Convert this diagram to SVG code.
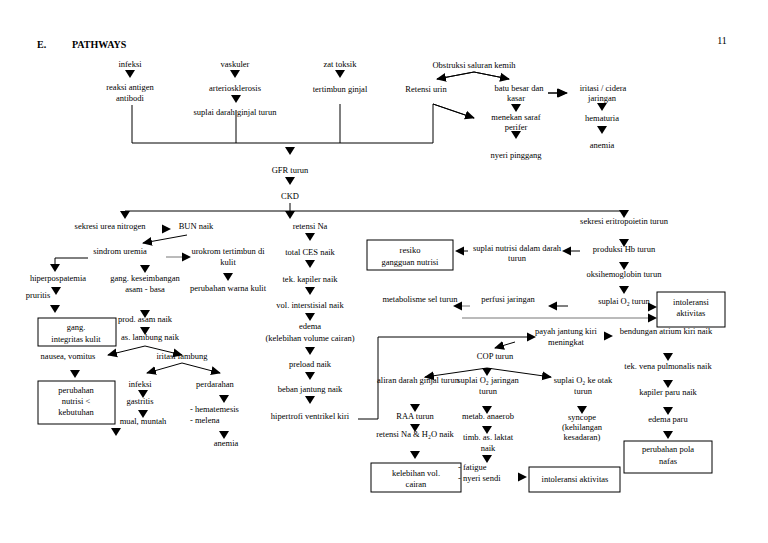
<svg xmlns="http://www.w3.org/2000/svg" xmlns:xlink="http://www.w3.org/1999/xlink" width="768" height="543" viewBox="0 0 768 543">
<style>
text{font-family:"Liberation Serif",serif;font-size:8.5px;text-anchor:middle;fill:#000}
.s{text-anchor:start}
.b{font-weight:bold;font-size:10px;text-anchor:start}
.ln{stroke:#000;stroke-width:1;fill:none}
.g{stroke:#777;stroke-width:1;fill:none}
.box{fill:#fff;stroke:#000;stroke-width:1}
</style>
<defs>
<path id="d" d="M-5,0 L5,0 L0,8 Z"/>
<path id="r" d="M0,-4.5 L9,0 L0,4.5 Z"/>
<path id="l" d="M0,-4.5 L-9,0 L0,4.5 Z"/>
<marker id="a" markerWidth="10" markerHeight="10" refX="9" refY="5" orient="auto" markerUnits="userSpaceOnUse"><path d="M0,0.5 L10,5 L0,9.5 Z"/></marker>
</defs>
<rect width="768" height="543" fill="#fff"/>
<text class="b" x="37" y="48">E.</text>
<text class="b" x="72" y="48">PATHWAYS</text>
<text x="722" y="44" style="font-size:10px">11</text>

<g id="connectors">
<use href="#d" x="130" y="70"/><use href="#d" x="235" y="70"/><use href="#d" x="236" y="95"/><use href="#d" x="340" y="70"/>
<path class="ln" d="M132,105V143M236,110V143M340,104V143M132,143H433V104"/>
<path class="ln" d="M474,72L437,79M474,72L509,79M433,104L474,118M548,93H566" marker-end="url(#a)"/>
<path class="ln" d="M474,72L437,79" marker-end="url(#a)"/><path class="ln" d="M474,72L509,79" marker-end="url(#a)"/><path class="ln" d="M433,104L474,118" marker-end="url(#a)"/><path class="ln" d="M548,93H567" marker-end="url(#a)"/>
<use href="#d" x="516" y="104"/><use href="#d" x="516" y="131"/><use href="#d" x="602" y="103"/><use href="#d" x="602" y="126"/>
<use href="#d" x="290" y="147"/><use href="#d" x="290" y="177"/>
<path class="ln" d="M290,203V211M125,211H625"/>
<use href="#d" x="125" y="211"/><use href="#d" x="290" y="211"/><use href="#d" x="624" y="210"/>
<use href="#r" x="162" y="229"/>
<path class="ln" d="M187,235L143,243" marker-end="url(#a)"/>
<path class="ln" d="M88,258H55V264"/><use href="#d" x="55" y="264"/><use href="#d" x="56" y="287"/><use href="#d" x="55" y="305"/>
<path class="g" d="M166,257H182"/><use href="#r" x="182" y="257"/>
<use href="#d" x="145" y="265"/><use href="#d" x="228" y="273"/>
<use href="#d" x="145" y="310"/><use href="#d" x="145" y="327"/>
<path class="ln" d="M145,346L108,355" marker-end="url(#a)"/><path class="ln" d="M145,346L182,355" marker-end="url(#a)"/>
<use href="#d" x="75" y="370"/>
<path class="ln" d="M182,363L147,373" marker-end="url(#a)"/><path class="ln" d="M182,363L220,373" marker-end="url(#a)"/>
<use href="#d" x="143" y="390"/><use href="#d" x="143" y="410"/><use href="#d" x="116" y="428"/>
<use href="#d" x="224" y="395"/><use href="#d" x="224" y="431"/>
<use href="#d" x="310" y="233"/><use href="#d" x="310" y="260"/><use href="#d" x="310" y="287"/><use href="#d" x="310" y="313"/><use href="#d" x="310" y="347"/><use href="#d" x="310" y="372"/><use href="#d" x="310" y="396"/>
<path class="ln" d="M358,419H378V337H528"/><use href="#r" x="527" y="337"/>
<use href="#r" x="604" y="336"/>
<path class="ln" d="M515,342L495,348" marker-end="url(#a)"/>
<path class="ln" d="M487,368L425,377" marker-end="url(#a)"/><path class="ln" d="M487,368L551,377" marker-end="url(#a)"/><use href="#d" x="487" y="368"/>
<use href="#d" x="415" y="404"/><use href="#d" x="415" y="424"/><use href="#d" x="415" y="451"/>
<use href="#d" x="487" y="406"/><use href="#d" x="487" y="426"/><use href="#d" x="487" y="455"/>
<use href="#r" x="518" y="477"/><use href="#d" x="582" y="406"/>
<use href="#d" x="668" y="353"/><use href="#d" x="668" y="380"/><use href="#d" x="668" y="407"/><use href="#d" x="668" y="431"/>
<use href="#d" x="624" y="239"/><use href="#d" x="624" y="262"/><use href="#d" x="624" y="286"/>
<path class="ln" d="M580,251H571"/><use href="#l" x="571" y="251"/>
<path class="ln" d="M468,251H464"/><use href="#l" x="464" y="251"/>
<path class="ln" d="M568,306H557"/><use href="#l" x="557" y="306"/>
<path class="g" d="M470,306H462"/><use href="#l" x="462" y="306"/>
<path class="g" d="M462,318H648"/><use href="#r" x="648" y="318"/>
<use href="#r" x="648" y="307"/>
</g>

<g id="n-infeksi"><text x="130" y="67">infeksi</text><text x="130" y="90">reaksi antigen</text><text x="130" y="101">antibodi</text></g>
<g id="n-vaskuler"><text x="235" y="67">vaskuler</text><text x="235" y="91">arteriosklerosis</text><text x="235" y="115">suplai darah ginjal turun</text></g>
<g id="n-toksik"><text x="340" y="67">zat toksik</text><text x="340" y="92">tertimbun ginjal</text></g>
<g id="n-obstruksi"><text x="474" y="68">Obstruksi saluran kemih</text><text x="426" y="92">Retensi urin</text></g>
<g id="n-batu"><text x="519" y="91">batu besar dan</text><text x="516" y="101">kasar</text><text x="516" y="120">menekan saraf</text><text x="516" y="130">perifer</text><text x="516" y="158">nyeri pinggang</text></g>
<g id="n-iritasi"><text x="603" y="91">iritasi / cidera</text><text x="602" y="101">jaringan</text><text x="602" y="121">hematuria</text><text x="602" y="148">anemia</text></g>
<g id="n-gfr"><text x="290" y="173">GFR turun</text><text x="290" y="199">CKD</text></g>
<g id="n-urea"><text x="110" y="229">sekresi urea nitrogen</text><text x="196" y="229">BUN naik</text><text x="120" y="254">sindrom uremia</text></g>
<g id="n-hiper"><text x="58" y="281">hiperpospatemia</text><text x="38" y="298">pruritis</text></g>
<g id="n-box1"><rect class="box" x="38" y="318" width="78" height="28"/><text x="76" y="330">gang.</text><text x="76" y="342">integritas kulit</text></g>
<g id="n-urokrom"><text x="228" y="254">urokrom tertimbun di</text><text x="228" y="265">kulit</text><text x="228" y="291">perubahan warna kulit</text></g>
<g id="n-asam"><text x="145" y="281">gang. keseimbangan</text><text x="145" y="292">asam - basa</text><text x="145" y="322">prod. asam naik</text><text x="150" y="340">as. lambung naik</text></g>
<g id="n-nausea"><text x="68" y="359">nausea, vomitus</text><text x="182" y="359">iritasi lambung</text></g>
<g id="n-box2"><rect class="box" x="38" y="381" width="77" height="43"/><text x="76" y="393">perubahan</text><text x="76" y="404">nutrisi &lt;</text><text x="76" y="415">kebutuhan</text></g>
<g id="n-gastritis"><text x="140" y="387">infeksi</text><text x="140" y="404">gastritis</text><text x="143" y="424">mual, muntah</text></g>
<g id="n-perdarahan"><text x="215" y="387">perdarahan</text><text class="s" x="190" y="412">- hematemesis</text><text class="s" x="190" y="423">- melena</text><text x="226" y="446">anemia</text></g>
<g id="n-retensiNa"><text x="310" y="229">retensi Na</text><text x="310" y="255">total CES naik</text><text x="310" y="282">tek. kapiler naik</text><text x="310" y="308">vol. interstisial naik</text><text x="310" y="329">edema</text><text x="310" y="341">(kelebihan volume cairan)</text><text x="310" y="367">preload naik</text><text x="310" y="392">beban jantung naik</text><text x="310" y="419">hipertrofi ventrikel kiri</text></g>
<g id="n-payah"><text x="566" y="334">payah jantung kiri</text><text x="566" y="345">meningkat</text><text x="666" y="334">bendungan atrium kiri naik</text><text x="495" y="359">COP turun</text></g>
<g id="n-aliran"><text x="418" y="383">aliran darah ginjal turun</text><text x="415" y="419">RAA turun</text><text x="415" y="437">retensi Na &amp; H₂O naik</text></g>
<g id="n-box3"><rect class="box" x="371" y="463" width="90" height="29"/><text x="416" y="476">kelebihan vol.</text><text x="416" y="487">cairan</text></g>
<g id="n-suplaiO2j"><text x="488" y="383">suplai O₂ jaringan</text><text x="488" y="394">turun</text><text x="488" y="419">metab. anaerob</text><text x="488" y="440">timb. as. laktat</text><text x="488" y="451">naik</text><text class="s" x="458" y="470">- fatigue</text><text class="s" x="458" y="481">- nyeri sendi</text></g>
<g id="n-box4"><rect class="box" x="529" y="467" width="91" height="25"/><text x="575" y="482">intoleransi aktivitas</text></g>
<g id="n-otak"><text x="583" y="383">suplai O₂ ke otak</text><text x="583" y="394">turun</text><text x="582" y="420">syncope</text><text x="582" y="430">(kehilangan</text><text x="582" y="440">kesadaran)</text></g>
<g id="n-vena"><text x="668" y="369">tek. vena pulmonalis naik</text><text x="668" y="395">kapiler paru naik</text><text x="668" y="422">edema paru</text></g>
<g id="n-box5"><rect class="box" x="624" y="441" width="88" height="32"/><text x="668" y="452">perubahan pola</text><text x="668" y="464">nafas</text></g>
<g id="n-eritro"><text x="624" y="224">sekresi eritropoietin turun</text><text x="624" y="252">produksi Hb turun</text><text x="624" y="277">oksihemoglobin turun</text><text x="624" y="304">suplai O₂ turun</text></g>
<g id="n-suplainutrisi"><text x="517" y="251">suplai nutrisi dalam darah</text><text x="517" y="261">turun</text></g>
<g id="n-box6"><rect class="box" x="367" y="240" width="86" height="30"/><text x="410" y="253">resiko</text><text x="410" y="265">gangguan nutrisi</text></g>
<g id="n-perfusi"><text x="508" y="302">perfusi jaringan</text><text x="420" y="302">metabolisme sel turun</text></g>
<g id="n-box7"><rect class="box" x="657" y="292" width="68" height="35"/><text x="691" y="305">intoleransi</text><text x="691" y="316">aktivitas</text></g>
</svg>
